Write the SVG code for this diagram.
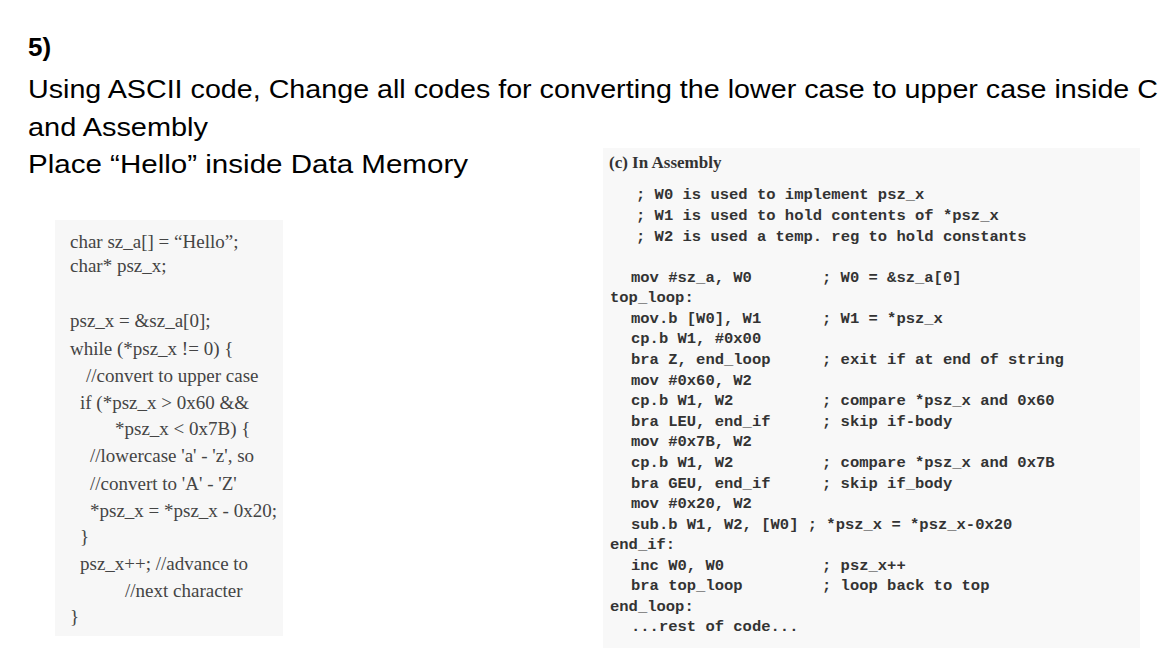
<svg xmlns="http://www.w3.org/2000/svg" width="1163" height="658" viewBox="0 0 1163 658">
<style>
.h{font-family:"Liberation Sans",Arial,sans-serif;font-size:26px;fill:#000}
.c{font-family:"Liberation Serif","Times New Roman",serif;font-size:19px;fill:#444}
.m{font-family:"Liberation Mono","Courier New",monospace;font-size:15.5px;font-weight:bold;fill:#333;white-space:pre}
</style>
<rect width="1163" height="658" fill="#fff"/>
<text class="h" x="28" y="56" font-weight="bold">5)</text>
<text class="h" x="28" y="98" textLength="1130" lengthAdjust="spacingAndGlyphs">Using ASCII code, Change all  codes for converting the lower case to upper case inside C</text>
<text class="h" x="28" y="136" textLength="180" lengthAdjust="spacingAndGlyphs">and Assembly</text>
<text class="h" x="28" y="173" textLength="440" lengthAdjust="spacingAndGlyphs">Place “Hello” inside Data Memory</text>
<rect x="55" y="220" width="228" height="416" fill="#f7f7f7"/>
<g class="c">
<text x="70" y="248">char sz_a[] = “Hello”;</text>
<text x="70" y="272">char* psz_x;</text>
<text x="70" y="327">psz_x = &amp;sz_a[0];</text>
<text x="70" y="355">while (*psz_x != 0) {</text>
<text x="86" y="382">//convert to upper case</text>
<text x="80" y="409">if (*psz_x &gt; 0x60 &amp;&amp;</text>
<text x="115" y="435">*psz_x &lt; 0x7B) {</text>
<text x="90" y="462">//lowercase 'a' - 'z', so</text>
<text x="90" y="490">//convert to 'A' - 'Z'</text>
<text x="90" y="517">*psz_x = *psz_x - 0x20;</text>
<text x="80" y="543">}</text>
<text x="80" y="570">psz_x++; //advance to</text>
<text x="125" y="597">//next character</text>
<text x="70" y="623">}</text>
</g>
<rect x="603" y="148" width="537" height="500" fill="#f8f8f8"/>
<text x="609" y="168" font-family="Liberation Serif,serif" font-size="17" font-weight="bold" fill="#333">(c) In Assembly</text>
<g class="m">
<text x="636" y="199">; W0 is used to implement psz_x</text>
<text x="636" y="220">; W1 is used to hold contents of *psz_x</text>
<text x="636" y="241">; W2 is used a temp. reg to hold constants</text>
<text x="631" y="282">mov #sz_a, W0</text><text x="822" y="282">; W0 = &amp;sz_a[0]</text>
<text x="610" y="302">top_loop:</text>
<text x="631" y="323">mov.b [W0], W1</text><text x="822" y="323">; W1 = *psz_x</text>
<text x="631" y="343">cp.b W1, #0x00</text>
<text x="631" y="364">bra Z, end_loop</text><text x="822" y="364">; exit if at end of string</text>
<text x="631" y="385">mov #0x60, W2</text>
<text x="631" y="405">cp.b W1, W2</text><text x="822" y="405">; compare *psz_x and 0x60</text>
<text x="631" y="426">bra LEU, end_if</text><text x="822" y="426">; skip if-body</text>
<text x="631" y="446">mov #0x7B, W2</text>
<text x="631" y="467">cp.b W1, W2</text><text x="822" y="467">; compare *psz_x and 0x7B</text>
<text x="631" y="488">bra GEU, end_if</text><text x="822" y="488">; skip if_body</text>
<text x="631" y="508">mov #0x20, W2</text>
<text x="631" y="529">sub.b W1, W2, [W0] ; *psz_x = *psz_x-0x20</text>
<text x="610" y="549">end_if:</text>
<text x="631" y="570">inc W0, W0</text><text x="822" y="570">; psz_x++</text>
<text x="631" y="590">bra top_loop</text><text x="822" y="590">; loop back to top</text>
<text x="610" y="611">end_loop:</text>
<text x="631" y="631">...rest of code...</text>
</g>
</svg>
